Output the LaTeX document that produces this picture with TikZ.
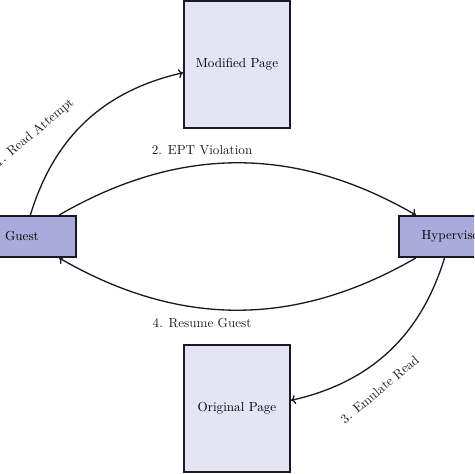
\documentclass[tikz,border=0pt]{standalone}
\usetikzlibrary{arrows.meta}
\definecolor{procfill}{RGB}{170,170,221}
\definecolor{pagefill}{RGB}{228,228,245}
\definecolor{edgecol}{RGB}{25,25,35}
\begin{document}
\begin{tikzpicture}[x=0.763pt,y=0.763pt,
  proc/.style={draw=edgecol, line width=1.2pt, fill=procfill, minimum width=82.7pt, minimum height=31.6pt, inner sep=0pt},
  pagebox/.style={draw=edgecol, line width=1.2pt, fill=pagefill, minimum width=81.2pt, minimum height=97.2pt, inner sep=0pt},
  flow/.style={-{To[length=3.5pt,width=7pt]}, line width=1pt, edgecol}]
\useasboundingbox (0,0) rectangle (474,474);
\clip (0,0) rectangle (474,474);
\node[proc] (guest) at (22,237.5) {Guest};
\node[proc] (hyper) at (453,237.5) {Hypervisor};
\node[pagebox] (modified) at (237,409.5) {Modified Page};
\node[pagebox] (original) at (237,65.5) {Original Page};
\draw[flow] (guest) to[bend left=30] node[pos=0.3, xshift=-18.5pt, yshift=15.5pt, rotate=40] (l1) {1. Read Attempt} (modified);
\draw[flow] (guest) to[bend left=30] node[pos=0.4, above=4pt] (l2) {2. EPT Violation} (hyper);
\draw[flow] (hyper) to[bend left=30] node[pos=0.6, xshift=5.5pt, yshift=-18.6pt, rotate=40] (l3) {3. Emulate Read} (original);
\draw[flow] (hyper) to[bend left=30] node[pos=0.6, below=4pt] (l4) {4. Resume Guest} (guest);
\end{tikzpicture}
\end{document}
